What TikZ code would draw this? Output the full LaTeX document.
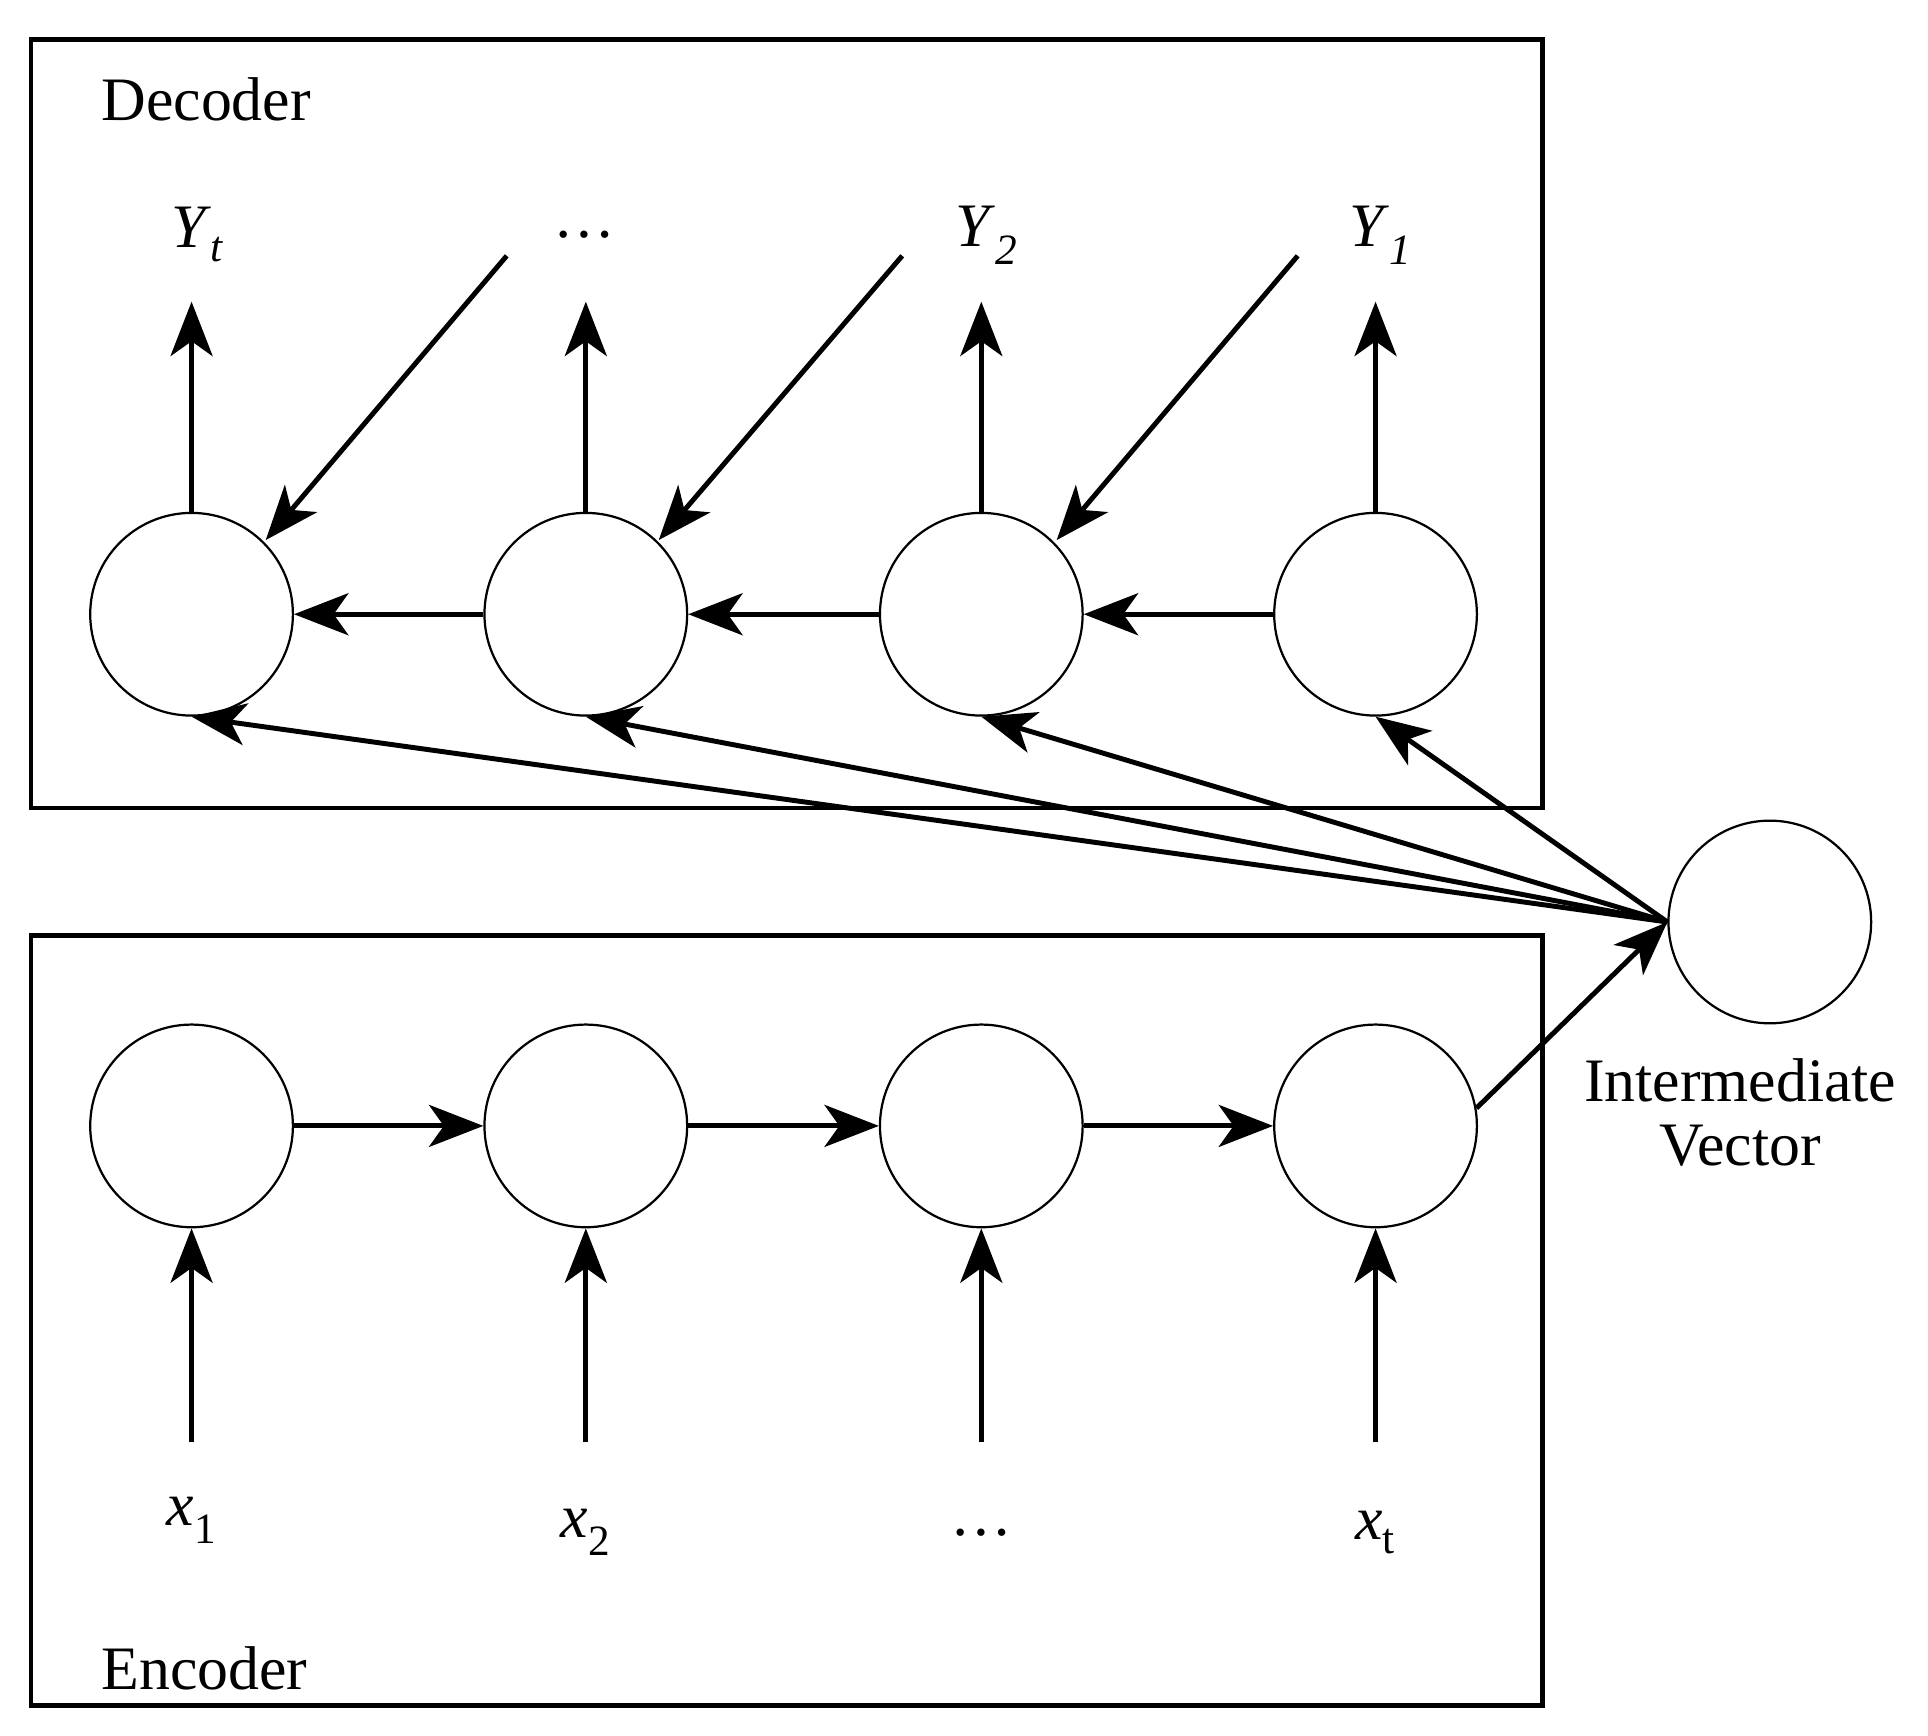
\documentclass[tikz,border=0pt]{standalone}
\usepackage{fontspec}
\setmainfont{Liberation Serif}
\usetikzlibrary{arrows.meta}
\begin{document}
\begin{tikzpicture}[x=1pt,y=-1pt,
  box/.style={draw,line width=3.5pt},
  cell/.style={draw,circle,line width=1.8pt,minimum size=164pt,inner sep=0pt},
  arr/.style={line width=4pt,-{Stealth[length=44pt,width=34pt,inset=12pt]}},
  lab/.style={font=\fontsize{50}{58}\selectfont,inner sep=0pt}]
\useasboundingbox (0,0) rectangle (1560,1404);
\draw[box] (25,32) rectangle (1248,654);
\draw[box] (25,757) rectangle (1248,1380);
\node[lab,anchor=west] (dec) at (82,80) {Decoder};
\node[lab,anchor=west] (enc) at (82,1350) {Encoder};
\foreach \i/\x in {1/155,2/474,3/794,4/1113}{
  \node[cell] (d\i) at (\x,497) {};
  \node[cell] (e\i) at (\x,911) {};
}
\node[cell] (iv) at (1432,746) {};
\node[lab,align=center] (ivl) at (1408,900) {Intermediate\\[-6pt]Vector};
% outputs
\node[lab] (y1) at (160,190) {\textit{Y}\textsubscript{\textit{t}}};
\node[lab] (y2) at (473,190) {\dots};
\node[lab] (y3) at (798,190) {\textit{Y}\textsubscript{\textit{2}}};
\node[lab] (y4) at (1117,190) {\textit{Y}\textsubscript{\textit{1}}};
\foreach \i in {1,2,3,4}{
  \coordinate (u\i) at ([yshift=170pt]d\i.north);
  \draw[arr] (d\i.north) -- (u\i);
}
% feedback diagonals
\coordinate (f2) at (410,207); \coordinate (f3) at (730,207); \coordinate (f4) at (1050,207);
\coordinate (t1) at (215,437); \coordinate (t2) at (533,437); \coordinate (t3) at (855,437);
\draw[arr] (f2) -- (t1);
\draw[arr] (f3) -- (t2);
\draw[arr] (f4) -- (t3);
% decoder horizontal
\draw[arr] (d4.west) -- (d3.east);
\draw[arr] (d3.west) -- (d2.east);
\draw[arr] (d2.west) -- (d1.east);
% intermediate to decoder
\foreach \i in {1,2,3,4}{
  \draw[arr] (iv.west) -- (d\i.south);
}
% encoder
\draw[arr] (e1.east) -- (e2.west);
\draw[arr] (e2.east) -- (e3.west);
\draw[arr] (e3.east) -- (e4.west);
\draw[arr] (e4.10) -- (iv.west);
\node[lab] (x1) at (155,1230) {\textit{x}\textsubscript{1}};
\node[lab] (x2) at (474,1240) {\textit{x}\textsubscript{2}};
\node[lab] (x3) at (794,1240) {\dots};
\node[lab] (x4) at (1113,1240) {\textit{x}\textsubscript{t}};
\foreach \i/\x in {1/155,2/474,3/794,4/1113}{
  \coordinate (b\i) at (\x,1167);
  \draw[arr] (b\i) -- (e\i.south);
}
\end{tikzpicture}
\end{document}
